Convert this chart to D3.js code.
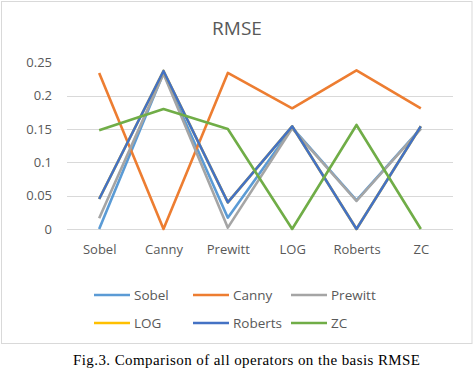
<!DOCTYPE html>
<html>
<head>
<meta charset="utf-8">
<script src="https://cdn.jsdelivr.net/npm/d3@7"></script>
<style>
  body { margin: 0; background: #fff; }
  svg { display: block; }
</style>
</head>
<body>
<svg width="474" height="370"></svg>
<script>
// Datos del gráfico RMSE
const operators = ["Sobel", "Canny", "Prewitt", "LOG", "Roberts", "ZC"];
const seriesNames = ["Sobel", "Canny", "Prewitt", "LOG", "Roberts", "ZC"];
const seriesColors = ["#5B9BD5", "#ED7D31", "#A5A5A5", "#FFC000", "#4472C4", "#70AD47"];
const sobelValues   = [0.000, 0.234, 0.017, 0.152, 0.043, 0.151];
const cannyValues   = [0.234, 0.000, 0.234, 0.181, 0.238, 0.181];
const prewittValues = [0.016, 0.233, 0.002, 0.151, 0.042, 0.150];
const logValues     = [0.045, 0.237, 0.040, 0.154, 0.000, 0.154];
const robertsValues = [0.045, 0.237, 0.040, 0.154, 0.000, 0.154];
const zcValues      = [0.148, 0.180, 0.150, 0.000, 0.156, 0.000];
const yTicks = [0, 0.05, 0.1, 0.15, 0.2, 0.25];
const yTickLabels = ["0", "0.05", "0.1", "0.15", "0.2", "0.25"];

const allValues = [sobelValues, cannyValues, prewittValues, logValues, robertsValues, zcValues];

const font = "Open Sans, Liberation Sans, sans-serif";
const svg = d3.select("svg");

// Marco del gráfico
svg.append("rect")
    .attr("x", 1.5).attr("y", 1.5)
    .attr("width", 470.5).attr("height", 342)
    .attr("fill", "#fff")
    .attr("stroke", "#d9d9d9");

// Escalas
const x = d3.scalePoint()
    .domain(operators)
    .range([67, 453])
    .padding(0.5);

const y = d3.scaleLinear()
    .domain([0, 0.25])
    .range([229, 62.3]);

// Título
svg.append("text")
    .attr("x", 237).attr("y", 35)
    .attr("text-anchor", "middle")
    .attr("font-family", font)
    .attr("font-size", "19px")
    .attr("fill", "#595959")
    .text("RMSE");

// Líneas de cuadrícula (sin la de 0.25)
svg.append("g")
    .selectAll("line")
    .data(yTicks.filter(d => d < 0.25))
    .enter().append("line")
    .attr("x1", 67).attr("x2", 453)
    .attr("y1", d => Math.round(y(d)) + 0.5)
    .attr("y2", d => Math.round(y(d)) + 0.5)
    .attr("stroke", "#d9d9d9")
    .attr("stroke-width", 1);

// Eje Y
const yAxis = d3.axisLeft(y)
    .tickValues(yTicks)
    .tickFormat((d, i) => yTickLabels[i])
    .tickSize(0)
    .tickPadding(0);

svg.append("g")
    .attr("transform", "translate(52,0)")
    .call(yAxis)
    .call(g => g.select(".domain").remove())
    .call(g => g.selectAll("text")
        .attr("font-family", font)
        .attr("font-size", "13px")
        .attr("fill", "#595959"));

// Eje X
const xAxis = d3.axisBottom(x).tickSize(0).tickPadding(0);
svg.append("g")
    .attr("transform", "translate(0,245)")
    .call(xAxis)
    .call(g => g.select(".domain").remove())
    .call(g => g.selectAll("text")
        .attr("font-family", font)
        .attr("font-size", "13px")
        .attr("fill", "#595959"));

// Series
const line = d3.line()
    .x((d, i) => x(operators[i]))
    .y(d => y(d));

svg.append("g")
    .selectAll("path")
    .data(allValues)
    .enter().append("path")
    .attr("d", d => line(d))
    .attr("fill", "none")
    .attr("stroke", (d, i) => seriesColors[i])
    .attr("stroke-width", 2.6)
    .attr("stroke-linejoin", "round");

// Leyenda
const legendCols = [94, 193, 291];
const legendRows = [295, 323];
const legend = svg.append("g")
    .selectAll("g")
    .data(seriesNames)
    .enter().append("g")
    .attr("transform", (d, i) => `translate(${legendCols[i % 3]},${legendRows[Math.floor(i / 3)]})`);

legend.append("line")
    .attr("x1", 0).attr("x2", 36)
    .attr("y1", 0).attr("y2", 0)
    .attr("stroke", (d, i) => seriesColors[i])
    .attr("stroke-width", 2.6);

legend.append("text")
    .attr("x", 40).attr("y", 0)
    .attr("dy", "0.35em")
    .attr("font-family", font)
    .attr("font-size", "13.5px")
    .attr("fill", "#595959")
    .text(d => d);

// Pie de figura
svg.append("text")
    .attr("x", 73).attr("y", 365)
    .attr("font-family", "Liberation Serif, Times New Roman, serif")
    .attr("font-size", "15px")
    .attr("fill", "#000")
    .attr("textLength", 347)
    .text("Fig.3.  Comparison of all operators on the basis RMSE");
</script>
</body>
</html>
